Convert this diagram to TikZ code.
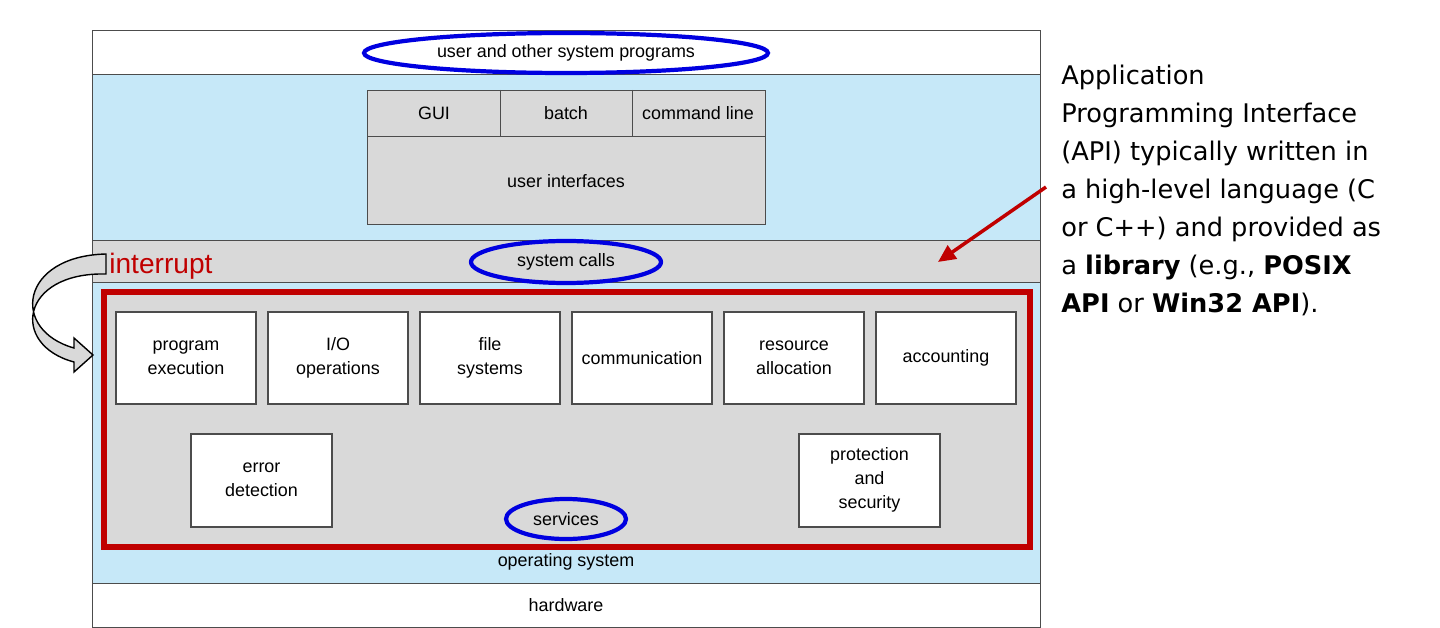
\documentclass[tikz,border=0pt]{standalone}
\usepackage{fontspec}
\setmainfont{Liberation Sans}
\newfontfamily\apifont{DejaVu Sans}
\usetikzlibrary{arrows.meta}
\definecolor{lblue}{HTML}{C6E8F8}
\definecolor{lgrey}{HTML}{D9D9D9}
\definecolor{dred}{HTML}{C00000}
\definecolor{oblue}{HTML}{0000E0}
\begin{document}
\begin{tikzpicture}[x=0.02cm,y=-0.02cm,
  lbl/.style={font=\fontsize{10.2}{13.6}\selectfont,align=center},
  svc/.style={draw=black!70,fill=white,line width=0.6pt}]
\useasboundingbox (0,0) rectangle (1440,628);
% bands
\draw[fill=white,draw=black!70] (92,30) rectangle (1040,74);
\draw[fill=lblue,draw=black!70] (92,74) rectangle (1040,240);
\draw[fill=lgrey,draw=black!70] (92,240) rectangle (1040,282);
\draw[fill=lblue,draw=black!70] (92,282) rectangle (1040,583);
\draw[fill=white,draw=black!70] (92,583) rectangle (1040,627);
\node[lbl] (uosp) at (566,53) {user and other system programs};
\draw[oblue,line width=2.4pt] (566,53) ellipse (202 and 20);
% user interfaces
\draw[fill=lgrey,draw=black!70] (367,90) rectangle (765,224);
\draw[draw=black!70] (367,136) -- (765,136) (500,90) -- (500,136) (632,90) -- (632,136);
\node[lbl] (gui) at (434,113) {GUI};
\node[lbl] (batch) at (566,113) {batch};
\node[lbl] (cmd) at (698,113) {command line};
\node[lbl] (ui) at (566,181) {user interfaces};
\node[lbl] (sc) at (566,262) {system calls};
\draw[oblue,line width=2.4pt] (566,262) ellipse (95 and 21);
% services
\draw[fill=lgrey,draw=dred,line width=3pt] (104,292) rectangle (1030,547);
\foreach \x/\t [count=\i] in {116/{program\\execution},268/{I/O\\operations},420/{file\\systems},572/{communication},724/{resource\\allocation},876/{accounting}}{
  \draw[svc] (\x,312) rectangle ++(140,92);
  \node[lbl] (s\i) at (\x+70,358) {\t};
}
\draw[svc] (191,434) rectangle (332,527);
\node[lbl] (err) at (261.5,480) {error\\detection};
\draw[svc] (799,434) rectangle (940,527);
\node[lbl] (prot) at (869.5,480) {protection\\and\\security};
\node[lbl] (serv) at (566,519) {services};
\draw[oblue,line width=2.4pt] (566,519) ellipse (60 and 20);
\node[lbl] (os) at (566,562) {operating system};
\node[lbl] (hw) at (566,605) {hardware};
% interrupt
\node[anchor=west,text=dred,font=\fontsize{16}{18}\selectfont,inner sep=0pt] (intr) at (109,266) {interrupt};
\draw[fill=black!15,draw=black,line width=0.8pt]
  (106,254) .. controls (20,256) and (10,330) .. (74,348)
  -- (74,338) -- (93,355) -- (74,372) -- (74,362)
  .. controls (10,345) and (20,272) .. (106,274) -- cycle;
% API text
\node[anchor=north west,align=left,inner sep=0pt,
  font=\apifont\fontsize{14.6}{21.6}\selectfont] (api) at (1061,65)
  {Application\\Programming Interface\\(API) typically written in\\a high-level language (C\\or C++) and provided as\\a \textbf{library} (e.g., \textbf{POSIX}\\\textbf{API} or \textbf{Win32 API}).};
\coordinate (as) at (1046,187);
\coordinate (ae) at (938,262);
\draw[dred,line width=2pt,-{Triangle[length=10pt,width=9pt]}] (as) -- (ae);
\end{tikzpicture}
\end{document}
